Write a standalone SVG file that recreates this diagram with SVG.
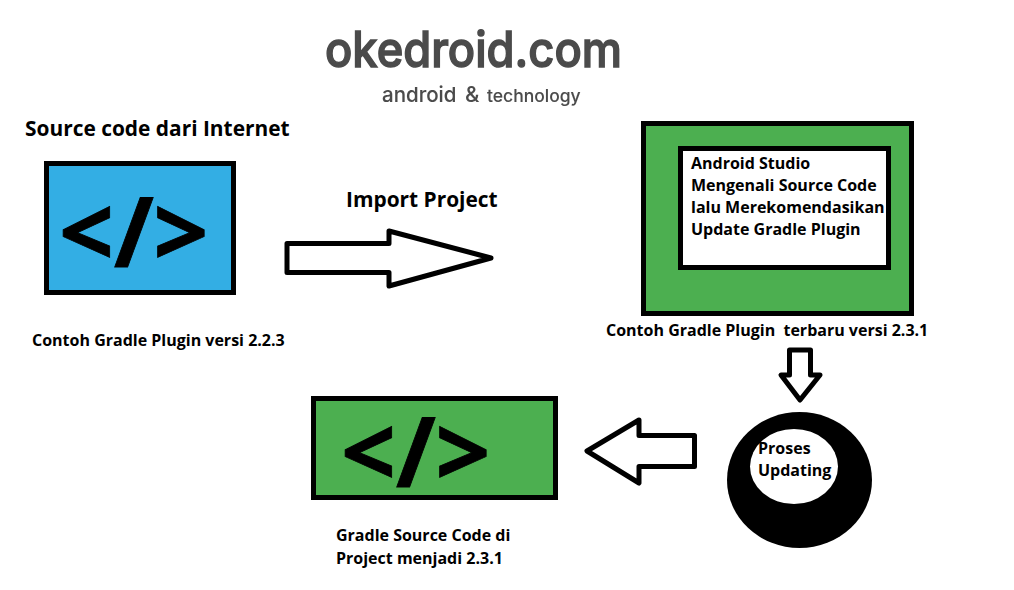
<svg xmlns="http://www.w3.org/2000/svg" width="1014" height="590" viewBox="0 0 1014 590">
<style>
text{font-family:"Open Sans","DejaVu Sans",sans-serif;font-weight:700;fill:#000}
.s{font-size:16px}
.l{font-size:20.9px}
.c{font-size:96px;stroke:#000;stroke-width:0.8}
.box{stroke:#000;stroke-width:5}
.arrow{fill:#fff;stroke:#000;stroke-width:5;stroke-linejoin:round}
.logo{font-family:"Inter","Liberation Sans",sans-serif;fill:#4b4b4b;font-weight:500;filter:url(#soft);stroke:#4b4b4b}
</style>
<defs><filter id="soft" x="-5%" y="-20%" width="110%" height="140%"><feGaussianBlur stdDeviation="0.7"/></filter></defs>
<rect width="1014" height="590" fill="#fff"/>
<g id="logo">
<text class="logo" x="325" y="67" font-size="50" textLength="297" lengthAdjust="spacingAndGlyphs" stroke-width="1.5">okedroid.com</text>
<text class="logo" y="102" font-size="20.500" stroke-width="0.1"><tspan x="382">android</tspan> <tspan x="465" font-size="22">&amp;</tspan> <tspan x="487" font-size="17.500">technology</tspan></text>
</g>
<g id="source">
<text class="l" x="25" y="136">Source code dari Internet</text>
<rect class="box" x="46.500" y="163.500" width="187" height="129" fill="#33aee4"/>
<text class="c" x="59" y="267">&lt;/&gt;</text>
<text class="s" x="32" y="346">Contoh Gradle Plugin versi 2.2.3</text>
</g>
<g id="studio">
<rect class="box" x="643.500" y="123.500" width="268" height="190" fill="#4caf50"/>
<rect class="box" x="680.500" y="148.500" width="208" height="119" fill="#fff"/>
<text class="s" x="691" y="169">Android Studio</text>
<text class="s" x="691" y="191">Mengenali Source Code</text>
<text class="s" x="691" y="213">lalu Merekomendasikan</text>
<text class="s" x="691" y="235">Update Gradle Plugin</text>
<text class="s" x="606" y="336" xml:space="preserve">Contoh Gradle Plugin  terbaru versi 2.3.1</text>
</g>
<g id="updating">
<ellipse cx="799.500" cy="480" rx="72.500" ry="68" fill="#000"/>
<ellipse cx="794" cy="466.500" rx="44" ry="37.500" fill="#fff"/>
<text class="s" x="758" y="454">Proses</text>
<text class="s" x="758" y="476">Updating</text>
</g>
<g id="result">
<rect class="box" x="313.500" y="398.500" width="242" height="99" fill="#4caf50"/>
<text class="c" x="341" y="487">&lt;/&gt;</text>
<text class="s" x="336" y="541">Gradle Source Code di</text>
<text class="s" x="336" y="564">Project menjadi 2.3.1</text>
</g>
<g id="connectors">
<path class="arrow" d="M287 243.500H389V231L491 258 389 286V272.500H287Z"/>
<path class="arrow" d="M789.500 350H810.500V375H820L800 400 781 375H789.500Z"/>
<path class="arrow" d="M694.500 435.500H639V420L587 451 639 483V466.500H694.500Z"/>
<text class="l" x="346" y="207">Import Project</text>
</g>
</svg>
